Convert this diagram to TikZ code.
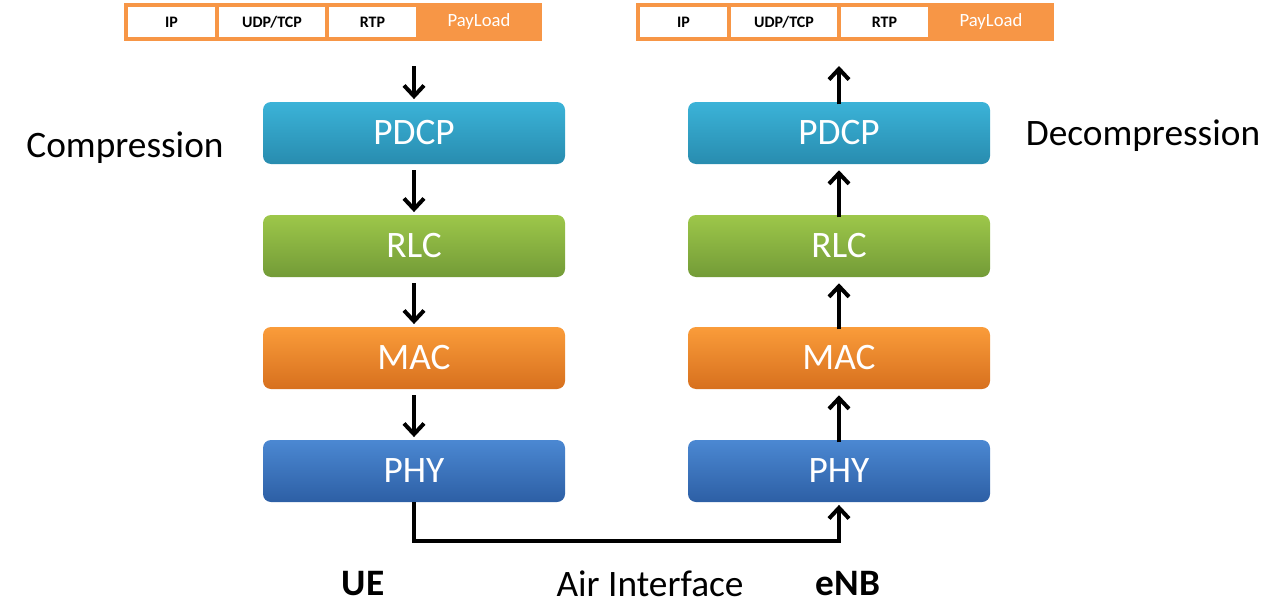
\documentclass[tikz,border=0pt]{standalone}
\usetikzlibrary{arrows.meta}
\usepackage{fontspec}
\setmainfont{Carlito}
\definecolor{pko}{HTML}{F79646}
\begin{document}
\begin{tikzpicture}[x=0.75pt,y=-0.75pt,
 layer/.style={rounded corners=6pt,minimum width=302*0.75pt,minimum height=62*0.75pt,text=white,font=\fontsize{28}{30}\selectfont,inner sep=0},
 cell/.style={draw=pko,line width=2.8pt,fill=white,minimum height=34*0.75pt,inner sep=0,font=\bfseries\fontsize{12}{14}\selectfont},
 pay/.style={cell,fill=pko,text=white,font=\fontsize{14}{16}\selectfont},
 arr/.style={-{Straight Barb[length=8pt,width=15pt,line width=3pt]},line width=3pt},
 lbl/.style={font=\fontsize{28}{30}\selectfont}]
\useasboundingbox (0,0) rectangle (1286,614);
\foreach \s/\dx in {L/0,R/512}{
 \node[cell,minimum width=91*0.75pt] (ip\s) at (171.5+\dx,22) {IP};
 \node[cell,minimum width=110*0.75pt] (udp\s) at (272+\dx,22) {UDP/TCP};
 \node[cell,minimum width=91*0.75pt] (rtp\s) at (372.5+\dx,22) {RTP};
 \node[pay,minimum width=122*0.75pt] (pay\s) at (479+\dx,22) {PayLoad};
}
\foreach \s/\cx in {L/414,R/839}{
 \node[layer,top color={rgb,255:red,59;green,179;blue,216},bottom color={rgb,255:red,40;green,140;blue,175}] (pdcp\s) at (\cx,133) {PDCP};
 \node[layer,top color={rgb,255:red,157;green,199;blue,74},bottom color={rgb,255:red,115;green,155;blue,55}] (rlc\s) at (\cx,246) {RLC};
 \node[layer,top color={rgb,255:red,250;green,156;blue,58},bottom color={rgb,255:red,215;green,112;blue,30}] (mac\s) at (\cx,358) {MAC};
 \node[layer,top color={rgb,255:red,75;green,136;blue,210},bottom color={rgb,255:red,45;green,95;blue,165}] (phy\s) at (\cx,471) {PHY};
}
\coordinate (pl) at (414,41);
\coordinate (pr) at (839,41);
\draw[arr] ([yshift=-25*0.75pt]pl) -- ([yshift=2pt]pdcpL.north);
\draw[arr] ([yshift=-6*0.75pt]pdcpL.south) -- ([yshift=2pt]rlcL.north);
\draw[arr] ([yshift=-6*0.75pt]rlcL.south) -- ([yshift=2pt]macL.north);
\draw[arr] ([yshift=-6*0.75pt]macL.south) -- ([yshift=2pt]phyL.north);
\draw[arr] ([yshift=-2pt]pdcpR.north) -- ([yshift=-25*0.75pt]pr);
\draw[arr] ([yshift=-2pt]rlcR.north) -- ([yshift=-6*0.75pt]pdcpR.south);
\draw[arr] ([yshift=-2pt]macR.north) -- ([yshift=-6*0.75pt]rlcR.south);
\draw[arr] ([yshift=-2pt]phyR.north) -- ([yshift=-6*0.75pt]macR.south);
\coordinate (bl) at (414,541);
\coordinate (br) at (839,541);
\draw[arr] (phyL.south) -- (bl) -- (br) -- ([yshift=-2pt]phyR.south);
\node[lbl] (comp) at (125,148) {Compression};
\node[lbl] (decomp) at (1143,136) {Decompression};
\node[lbl,font=\bfseries\fontsize{28}{30}\selectfont] (ue) at (363,584) {UE};
\node[lbl] (air) at (650,584) {Air Interface};
\node[lbl,font=\bfseries\fontsize{28}{30}\selectfont] (enb) at (848,584) {eNB};
\end{tikzpicture}
\end{document}
